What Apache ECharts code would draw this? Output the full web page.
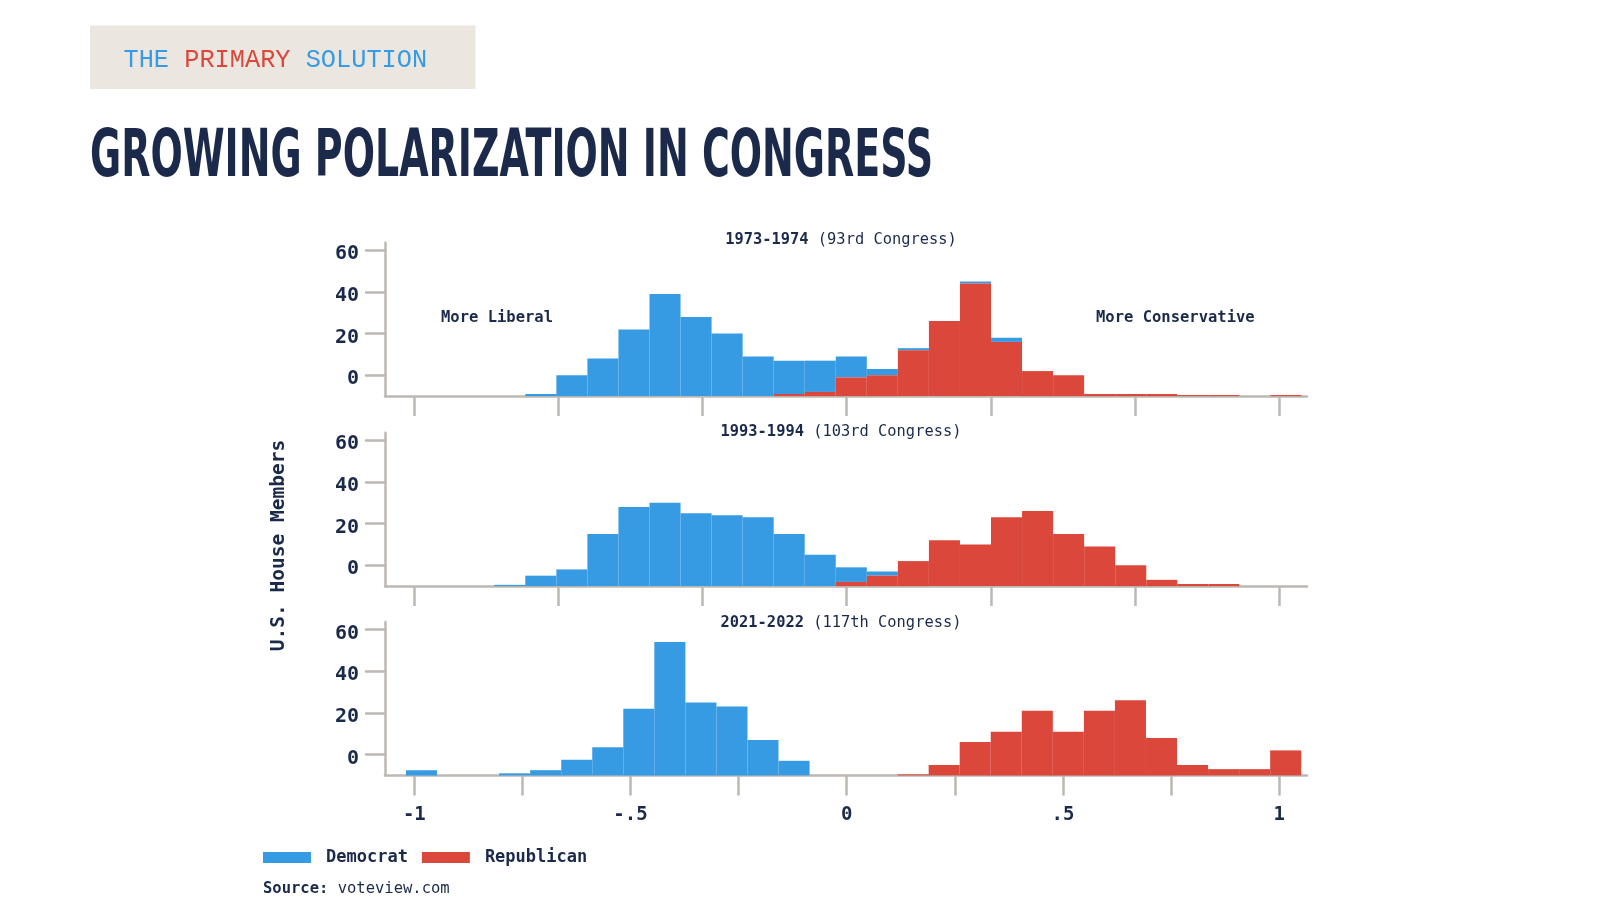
<!DOCTYPE html>
<html>
<head>
<meta charset="utf-8">
<title>Growing Polarization in Congress</title>
<script src="https://cdn.jsdelivr.net/npm/echarts@6/dist/echarts.min.js"></script>
<style>
  html, body { margin: 0; padding: 0; background: #fff; }
  #chart { width: 1600px; height: 900px; }
</style>
</head>
<body>
<div id="chart"></div>
<script>
// histogram bins: width of one bin in DW-NOMINATE units, and the left edge of the first bin
var binWidth = 0.0718;
var congressYears = ['1973-1974', '1993-1994', '2021-2022'];
var congressNames = ['(93rd Congress)', '(103rd Congress)', '(117th Congress)'];
var demStart = [-0.7433, -0.8151, -1.0193];
var repStart = [-0.1689, -0.0253, 0.1177];

// members per bin
var dem93 = [1, 10, 18, 32, 49, 38, 30, 19, 16, 15, 10, 3, 1, 0, 1, 2];
var rep93 = [1, 2, 9, 10, 22, 36, 54, 26, 12, 10, 1, 1, 1, 0.5, 0.5, 0, 0.5];
var dem103 = [0.6, 5, 8, 25, 38, 40, 35, 34, 33, 25, 15, 7, 2];
var rep103 = [2, 5, 12, 22, 20, 33, 36, 25, 19, 10, 3, 1, 1];
var dem117 = [2.5, 0, 0, 1, 2.5, 7.5, 13.5, 32, 64, 35, 33, 17, 7];
var rep117 = [0.5, 5, 16, 21, 31, 21, 31, 36, 18, 5, 3, 3, 12];

var demCounts = [dem93, dem103, dem117];
var repCounts = [rep93, rep103, rep117];

// axis ticks
var yTickLabels = [0, 20, 40, 60];
var yLabelShift = 10; // the printed y labels sit 10 members above the baseline
var xTicksThirds = [-1, -2 / 3, -1 / 3, 0, 1 / 3, 2 / 3, 1];
var xTicksQuarters = [-1, -0.75, -0.5, -0.25, 0, 0.25, 0.5, 0.75, 1];
var xTickLabels = [-1, -0.5, 0, 0.5, 1];

var blue = '#369be3';
var red = '#db473a';
var navy = '#1b2a4a';
var axisGray = '#bdb8b2';
var mono = '"DejaVu Sans Mono", "Liberation Mono", monospace';

var chart = echarts.init(document.getElementById('chart'));

var gridTops = [242.7, 432.7, 622];
var gridHeight = 153.4;

function renderBar(params, api) {
  var topLeft = api.coord([api.value(0), api.value(3)]);
  var botRight = api.coord([api.value(1), api.value(2)]);
  return {
    type: 'rect',
    shape: {
      x: topLeft[0],
      y: topLeft[1],
      width: botRight[0] - topLeft[0],
      height: botRight[1] - topLeft[1]
    },
    style: { fill: api.visual('color') }
  };
}

var grids = [], xAxes = [], yAxes = [], series = [];
for (var p = 0; p < 3; p++) {
  grids.push({ left: 385, top: gridTops[p], width: 922, height: gridHeight });
  xAxes.push({
    type: 'value', gridIndex: p, min: -1.0678, max: 1.0645,
    splitLine: { show: false },
    axisLine: { onZero: false, lineStyle: { color: axisGray, width: 2.5 } },
    axisTick: {
      length: 20,
      customValues: p === 2 ? xTicksQuarters : xTicksThirds,
      lineStyle: { color: axisGray, width: 2.5 }
    },
    axisLabel: {
      show: p === 2,
      customValues: xTickLabels,
      margin: 30,
      fontFamily: mono, fontWeight: 'bold', fontSize: 19, color: navy,
      formatter: function (v) {
        return v === 0 ? '0' : String(v).replace('0.', '.');
      }
    }
  });
  yAxes.push({
    type: 'value', gridIndex: p, min: 0, max: 73.6,
    splitLine: { show: false },
    axisLine: { show: true, onZero: false, lineStyle: { color: axisGray, width: 2.5 } },
    axisTick: {
      show: true, length: 20,
      customValues: yTickLabels.map(function (v) { return v + yLabelShift; }),
      lineStyle: { color: axisGray, width: 2.5 }
    },
    axisLabel: {
      customValues: yTickLabels.map(function (v) { return v + yLabelShift; }),
      margin: 26,
      formatter: function (v) { return '{n|' + Math.round(v - yLabelShift) + '}'; },
      rich: {
        n: {
          fontFamily: mono, fontWeight: 'bold', fontSize: 20, color: navy,
          padding: [8, 0, 0, 0]
        }
      }
    }
  });

  // republicans sit at the bottom of the stack, democrats on top of them
  var repData = [], demData = [];
  var reps = repCounts[p], dems = demCounts[p];
  for (var i = 0; i < reps.length; i++) {
    var x0 = repStart[p] + i * binWidth;
    if (reps[i] > 0) repData.push([x0, x0 + binWidth, 0, reps[i]]);
  }
  for (var j = 0; j < dems.length; j++) {
    var d0 = demStart[p] + j * binWidth;
    var k = Math.round((d0 - repStart[p]) / binWidth);
    var base = 0;
    if (k >= 0 && k < reps.length && Math.abs(repStart[p] + k * binWidth - d0) < binWidth / 2) base = reps[k];
    if (dems[j] > 0) demData.push([d0, d0 + binWidth, base, base + dems[j]]);
  }
  series.push({
    name: 'Democrat', type: 'custom', xAxisIndex: p, yAxisIndex: p,
    itemStyle: { color: blue }, renderItem: renderBar,
    encode: { x: [0, 1], y: [2, 3] }, data: demData, z: 3
  });
  series.push({
    name: 'Republican', type: 'custom', xAxisIndex: p, yAxisIndex: p,
    itemStyle: { color: red }, renderItem: renderBar,
    encode: { x: [0, 1], y: [2, 3] }, data: repData, z: 3
  });
}

// squeeze the big headline to the width it has in the original
var title = 'GROWING POLARIZATION IN CONGRESS';
var titleFont = 'bold 66px "DejaVu Sans Condensed", "DejaVu Sans", sans-serif';
var ctx = document.createElement('canvas').getContext('2d');
ctx.font = titleFont;
var titleScale = 843 / ctx.measureText(title).width;

var panelTitleY = [239.8, 432.2, 622.7];
var graphics = [
  { type: 'rect', shape: { x: 90, y: 25.5, width: 385.5, height: 63.5 }, style: { fill: '#ebe7e0' } },
  {
    type: 'text', x: 123.5, y: 60,
    style: {
      text: '{b|THE} {r|PRIMARY} {b|SOLUTION}',
      verticalAlign: 'middle',
      rich: {
        b: { fill: blue, fontFamily: '"Liberation Mono", monospace', fontSize: 25.3 },
        r: { fill: red, fontFamily: '"Liberation Mono", monospace', fontSize: 25.3 }
      },
      fontFamily: '"Liberation Mono", monospace', fontSize: 25.3
    }
  },
  {
    type: 'text', x: 90, y: 158.8, scaleX: titleScale,
    style: { text: title, font: titleFont, fill: navy, verticalAlign: 'middle' }
  },
  {
    type: 'text', x: 441, y: 318,
    style: { text: 'More Liberal', fontFamily: mono, fontWeight: 'bold', fontSize: 15.5, fill: navy, verticalAlign: 'middle' }
  },
  {
    type: 'text', x: 1096, y: 318,
    style: { text: 'More Conservative', fontFamily: mono, fontWeight: 'bold', fontSize: 15.5, fill: navy, verticalAlign: 'middle' }
  },
  {
    type: 'text', x: 279, y: 545.5, rotation: Math.PI / 2,
    style: {
      text: 'U.S. House Members', fontFamily: mono, fontWeight: 'bold', fontSize: 19.5,
      fill: navy, align: 'center', verticalAlign: 'middle'
    }
  },
  {
    type: 'text', x: 263, y: 889,
    style: {
      text: '{b|Source:} {r|voteview.com}',
      verticalAlign: 'middle',
      rich: {
        b: { fill: navy, fontFamily: mono, fontWeight: 'bold', fontSize: 15.5 },
        r: { fill: navy, fontFamily: mono, fontSize: 15.5 }
      },
      fontFamily: mono, fontSize: 15.5
    }
  }
];
for (var t = 0; t < 3; t++) {
  graphics.push({
    type: 'text', x: 841, y: panelTitleY[t],
    style: {
      text: '{b|' + congressYears[t] + '} {r|' + congressNames[t] + '}',
      align: 'center', verticalAlign: 'middle',
      rich: {
        b: { fill: navy, fontFamily: mono, fontWeight: 'bold', fontSize: 15.4 },
        r: { fill: navy, fontFamily: mono, fontSize: 15.4 }
      },
      fontFamily: mono, fontSize: 15.4
    }
  });
}

chart.setOption({
  animation: false,
  backgroundColor: '#fff',
  grid: grids,
  xAxis: xAxes,
  yAxis: yAxes,
  legend: {
    data: ['Democrat', 'Republican'],
    left: 263, top: 849, padding: 0,
    icon: 'rect', itemWidth: 48, itemHeight: 11, itemGap: 14,
    textStyle: { fontFamily: mono, fontWeight: 'bold', fontSize: 17, color: navy, padding: [0, 0, 0, 10] }
  },
  graphic: graphics,
  series: series
});
</script>
</body>
</html>
